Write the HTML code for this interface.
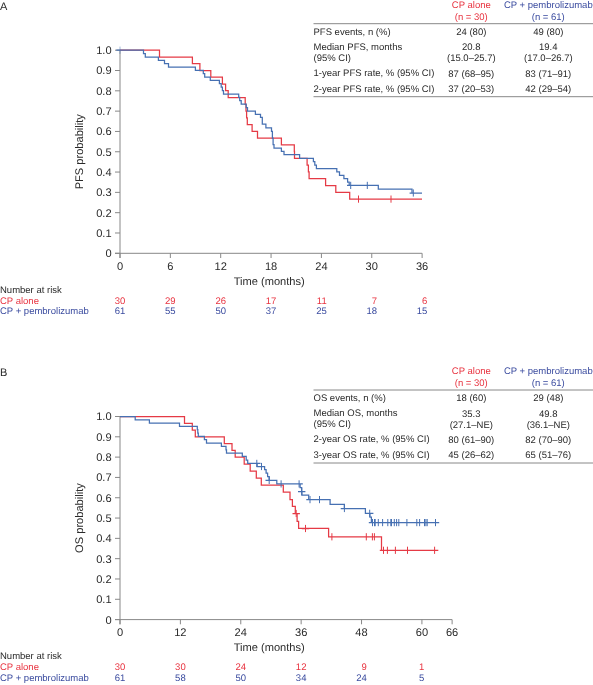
<!DOCTYPE html>
<html><head><meta charset="utf-8"><title>Kaplan-Meier curves</title>
<style>
html,body{margin:0;padding:0;background:#fff;}
body{width:593px;height:685px;overflow:hidden;}
svg{display:block;font-family:'Liberation Sans', Arial, Helvetica, sans-serif;text-rendering:geometricPrecision;}
</style></head>
<body>
<svg width="593" height="685" viewBox="0 0 593 685">
<rect width="593" height="685" fill="#fff"/>
<text x="0" y="9.6" font-size="11" fill="#2a2a2a" text-anchor="start" >A</text>
<text x="471.3" y="8.1" font-size="9.5" fill="#e8323f" text-anchor="middle" >CP alone</text>
<text x="471.3" y="19.7" font-size="9.5" fill="#e8323f" text-anchor="middle" >(n = 30)</text>
<text x="548.3" y="8.1" font-size="9.5" fill="#3a4b9f" text-anchor="middle" >CP + pembrolizumab</text>
<text x="548.3" y="19.7" font-size="9.5" fill="#3a4b9f" text-anchor="middle" >(n = 61)</text>
<line x1="313.5" x2="593" y1="23.7" y2="23.7" stroke="#888" stroke-width="1"/>
<line x1="313.5" x2="593" y1="96.7" y2="96.7" stroke="#888" stroke-width="1"/>
<text x="313.5" y="34.7" font-size="9.5" fill="#2a2a2a" text-anchor="start" >PFS events, n (%)</text>
<text x="471.3" y="34.7" font-size="9.5" fill="#2a2a2a" text-anchor="middle" >24 (80)</text>
<text x="548.3" y="34.7" font-size="9.5" fill="#2a2a2a" text-anchor="middle" >49 (80)</text>
<text x="313.5" y="49.8" font-size="9.5" fill="#2a2a2a" text-anchor="start" >Median PFS, months</text>
<text x="471.3" y="49.8" font-size="9.5" fill="#2a2a2a" text-anchor="middle" >20.8</text>
<text x="548.3" y="49.8" font-size="9.5" fill="#2a2a2a" text-anchor="middle" >19.4</text>
<text x="313.5" y="60.9" font-size="9.5" fill="#2a2a2a" text-anchor="start" >(95% CI)</text>
<text x="471.3" y="60.9" font-size="9.5" fill="#2a2a2a" text-anchor="middle" >(15.0–25.7)</text>
<text x="548.3" y="60.9" font-size="9.5" fill="#2a2a2a" text-anchor="middle" >(17.0–26.7)</text>
<text x="313.5" y="76.1" font-size="9.5" fill="#2a2a2a" text-anchor="start" >1-year PFS rate, % (95% CI)</text>
<text x="471.3" y="76.8" font-size="9.5" fill="#2a2a2a" text-anchor="middle" >87 (68–95)</text>
<text x="548.3" y="76.8" font-size="9.5" fill="#2a2a2a" text-anchor="middle" >83 (71–91)</text>
<text x="313.5" y="91.7" font-size="9.5" fill="#2a2a2a" text-anchor="start" >2-year PFS rate, % (95% CI)</text>
<text x="471.3" y="91.8" font-size="9.5" fill="#2a2a2a" text-anchor="middle" >37 (20–53)</text>
<text x="548.3" y="91.8" font-size="9.5" fill="#2a2a2a" text-anchor="middle" >42 (29–54)</text>
<line x1="120" x2="120" y1="50.20" y2="258.00" stroke="#888888" stroke-width="1"/>
<line x1="115" x2="422.11" y1="253.30" y2="253.30" stroke="#888888" stroke-width="1"/>
<line x1="115" x2="120" y1="253.30" y2="253.30" stroke="#888888" stroke-width="1"/>
<text x="111.6" y="257.2" font-size="11.1" fill="#2a2a2a" text-anchor="end" >0</text>
<line x1="115" x2="120" y1="232.99" y2="232.99" stroke="#888888" stroke-width="1"/>
<text x="111.6" y="236.89" font-size="11.1" fill="#2a2a2a" text-anchor="end" >0.1</text>
<line x1="115" x2="120" y1="212.68" y2="212.68" stroke="#888888" stroke-width="1"/>
<text x="111.6" y="216.58" font-size="11.1" fill="#2a2a2a" text-anchor="end" >0.2</text>
<line x1="115" x2="120" y1="192.37" y2="192.37" stroke="#888888" stroke-width="1"/>
<text x="111.6" y="196.27" font-size="11.1" fill="#2a2a2a" text-anchor="end" >0.3</text>
<line x1="115" x2="120" y1="172.06" y2="172.06" stroke="#888888" stroke-width="1"/>
<text x="111.6" y="175.96" font-size="11.1" fill="#2a2a2a" text-anchor="end" >0.4</text>
<line x1="115" x2="120" y1="151.75" y2="151.75" stroke="#888888" stroke-width="1"/>
<text x="111.6" y="155.65" font-size="11.1" fill="#2a2a2a" text-anchor="end" >0.5</text>
<line x1="115" x2="120" y1="131.44" y2="131.44" stroke="#888888" stroke-width="1"/>
<text x="111.6" y="135.34" font-size="11.1" fill="#2a2a2a" text-anchor="end" >0.6</text>
<line x1="115" x2="120" y1="111.13" y2="111.13" stroke="#888888" stroke-width="1"/>
<text x="111.6" y="115.03" font-size="11.1" fill="#2a2a2a" text-anchor="end" >0.7</text>
<line x1="115" x2="120" y1="90.82" y2="90.82" stroke="#888888" stroke-width="1"/>
<text x="111.6" y="94.72" font-size="11.1" fill="#2a2a2a" text-anchor="end" >0.8</text>
<line x1="115" x2="120" y1="70.51" y2="70.51" stroke="#888888" stroke-width="1"/>
<text x="111.6" y="74.41" font-size="11.1" fill="#2a2a2a" text-anchor="end" >0.9</text>
<line x1="115" x2="120" y1="50.20" y2="50.20" stroke="#888888" stroke-width="1"/>
<text x="111.6" y="54.1" font-size="11.1" fill="#2a2a2a" text-anchor="end" >1.0</text>
<line x1="120.00" x2="120.00" y1="253.30" y2="258.00" stroke="#888888" stroke-width="1"/>
<text x="120.0" y="270.0" font-size="11.1" fill="#2a2a2a" text-anchor="middle" >0</text>
<line x1="170.35" x2="170.35" y1="253.30" y2="258.00" stroke="#888888" stroke-width="1"/>
<text x="170.35" y="270.0" font-size="11.1" fill="#2a2a2a" text-anchor="middle" >6</text>
<line x1="220.70" x2="220.70" y1="253.30" y2="258.00" stroke="#888888" stroke-width="1"/>
<text x="220.7" y="270.0" font-size="11.1" fill="#2a2a2a" text-anchor="middle" >12</text>
<line x1="271.06" x2="271.06" y1="253.30" y2="258.00" stroke="#888888" stroke-width="1"/>
<text x="271.06" y="270.0" font-size="11.1" fill="#2a2a2a" text-anchor="middle" >18</text>
<line x1="321.41" x2="321.41" y1="253.30" y2="258.00" stroke="#888888" stroke-width="1"/>
<text x="321.41" y="270.0" font-size="11.1" fill="#2a2a2a" text-anchor="middle" >24</text>
<line x1="371.76" x2="371.76" y1="253.30" y2="258.00" stroke="#888888" stroke-width="1"/>
<text x="371.76" y="270.0" font-size="11.1" fill="#2a2a2a" text-anchor="middle" >30</text>
<line x1="422.11" x2="422.11" y1="253.30" y2="258.00" stroke="#888888" stroke-width="1"/>
<text x="422.11" y="270.0" font-size="11.1" fill="#2a2a2a" text-anchor="middle" >36</text>
<text x="269.2" y="284.8" font-size="11.1" fill="#2a2a2a" text-anchor="middle" >Time (months)</text>
<text x="0" y="0" font-size="11.1" fill="#2a2a2a" text-anchor="middle" transform="translate(82.8 151.75) rotate(-90)">PFS probability</text>
<text x="0" y="292.6" font-size="9.5" fill="#2a2a2a" text-anchor="start" >Number at risk</text>
<text x="0" y="303.5" font-size="9.5" fill="#e8323f" text-anchor="start" >CP alone</text>
<text x="0" y="313.9" font-size="9.5" fill="#3a4b9f" text-anchor="start" >CP + pembrolizumab</text>
<text x="125.3" y="303.6" font-size="9.5" fill="#e8323f" text-anchor="end" >30</text>
<text x="125.3" y="313.8" font-size="9.5" fill="#3a4b9f" text-anchor="end" >61</text>
<text x="175.65" y="303.6" font-size="9.5" fill="#e8323f" text-anchor="end" >29</text>
<text x="175.65" y="313.8" font-size="9.5" fill="#3a4b9f" text-anchor="end" >55</text>
<text x="226.0" y="303.6" font-size="9.5" fill="#e8323f" text-anchor="end" >26</text>
<text x="226.0" y="313.8" font-size="9.5" fill="#3a4b9f" text-anchor="end" >50</text>
<text x="276.36" y="303.6" font-size="9.5" fill="#e8323f" text-anchor="end" >17</text>
<text x="276.36" y="313.8" font-size="9.5" fill="#3a4b9f" text-anchor="end" >37</text>
<text x="326.71" y="303.6" font-size="9.5" fill="#e8323f" text-anchor="end" >11</text>
<text x="326.71" y="313.8" font-size="9.5" fill="#3a4b9f" text-anchor="end" >25</text>
<text x="377.06" y="303.6" font-size="9.5" fill="#e8323f" text-anchor="end" >7</text>
<text x="377.06" y="313.8" font-size="9.5" fill="#3a4b9f" text-anchor="end" >18</text>
<text x="427.41" y="303.6" font-size="9.5" fill="#e8323f" text-anchor="end" >6</text>
<text x="427.41" y="313.8" font-size="9.5" fill="#3a4b9f" text-anchor="end" >15</text>
<path d="M120 50.20 H159.5 V57.00 H192.4 V63.70 H199.9 V70.50 H210.8 V77.20 H222.4 V84.00 H225.6 V90.70 H228.2 V97.50 H245.2 V104.30 H246.0 V111.10 H246.6 V117.80 H247.3 V124.60 H252.1 V131.30 H257.5 V138.20 H281.4 V144.80 H294.3 V151.40 H294.5 V158.40 H307.1 V165.20 H308.4 V171.90 H309.1 V178.70 H325.6 V185.50 H335.8 V192.40 H349.7 V199.10 H422.0 M354.80 199.10 H362.20 M387.30 199.10 H394.70" fill="none" stroke="#e53a45" stroke-width="1.25" stroke-linejoin="miter" stroke-linecap="butt"/>
<path d="M358.50 195.50 V202.70" stroke="#e53a45" stroke-width="1" fill="none"/><path d="M391.00 195.50 V202.70" stroke="#e53a45" stroke-width="1" fill="none"/>
<path d="M120 50.20 H143.5 V53.50 H145.3 V57.00 H158.4 V60.30 H164.5 V63.60 H168.5 V67.00 H195.4 V70.40 H203.3 V73.70 H204.7 V77.10 H210.3 V80.40 H219.4 V83.70 H221.2 V87.00 H222.4 V90.50 H223.5 V94.00 H238.7 V97.40 H239.7 V100.70 H241.2 V104.10 H246.2 V107.60 H247.5 V111.00 H255.4 V114.30 H260.5 V117.40 H262.3 V124.20 H265.9 V127.80 H271.5 V131.30 H272.4 V138.00 H273.1 V144.60 H274.0 V148.10 H281.4 V151.40 H284.0 V154.70 H299.6 V158.30 H313.4 V161.70 H314.8 V165.10 H316.4 V168.50 H336.8 V171.80 H339.5 V175.30 H343.9 V178.60 H347.6 V182.20 H349.2 V185.40 H378.3 V189.10 H412.0 V193.00 H422.0 M116.30 50.20 H123.70 M347.00 185.40 H354.40 M363.60 185.40 H371.00 M409.60 193.00 H417.00" fill="none" stroke="#4670b2" stroke-width="1.25" stroke-linejoin="miter" stroke-linecap="butt"/>
<path d="M120.00 46.60 V53.80" stroke="#4670b2" stroke-width="1" fill="none" opacity="0.5"/><path d="M350.70 181.80 V189.00" stroke="#4670b2" stroke-width="1" fill="none"/><path d="M367.30 181.80 V189.00" stroke="#4670b2" stroke-width="1" fill="none"/><path d="M413.30 189.40 V196.60" stroke="#4670b2" stroke-width="1" fill="none"/>
<text x="0" y="375.9" font-size="11" fill="#2a2a2a" text-anchor="start" >B</text>
<text x="471.3" y="374.4" font-size="9.5" fill="#e8323f" text-anchor="middle" >CP alone</text>
<text x="471.3" y="386.0" font-size="9.5" fill="#e8323f" text-anchor="middle" >(n = 30)</text>
<text x="548.3" y="374.4" font-size="9.5" fill="#3a4b9f" text-anchor="middle" >CP + pembrolizumab</text>
<text x="548.3" y="386.0" font-size="9.5" fill="#3a4b9f" text-anchor="middle" >(n = 61)</text>
<line x1="313.5" x2="593" y1="390.0" y2="390.0" stroke="#888" stroke-width="1"/>
<line x1="313.5" x2="593" y1="463.0" y2="463.0" stroke="#888" stroke-width="1"/>
<text x="313.5" y="401.0" font-size="9.5" fill="#2a2a2a" text-anchor="start" >OS events, n (%)</text>
<text x="471.3" y="401.0" font-size="9.5" fill="#2a2a2a" text-anchor="middle" >18 (60)</text>
<text x="548.3" y="401.0" font-size="9.5" fill="#2a2a2a" text-anchor="middle" >29 (48)</text>
<text x="313.5" y="416.1" font-size="9.5" fill="#2a2a2a" text-anchor="start" >Median OS, months</text>
<text x="471.3" y="417.2" font-size="9.5" fill="#2a2a2a" text-anchor="middle" >35.3</text>
<text x="548.3" y="417.2" font-size="9.5" fill="#2a2a2a" text-anchor="middle" >49.8</text>
<text x="313.5" y="427.2" font-size="9.5" fill="#2a2a2a" text-anchor="start" >(95% CI)</text>
<text x="471.3" y="428.2" font-size="9.5" fill="#2a2a2a" text-anchor="middle" >(27.1–NE)</text>
<text x="548.3" y="428.2" font-size="9.5" fill="#2a2a2a" text-anchor="middle" >(36.1–NE)</text>
<text x="313.5" y="442.4" font-size="9.5" fill="#2a2a2a" text-anchor="start" >2-year OS rate, % (95% CI)</text>
<text x="471.3" y="443.1" font-size="9.5" fill="#2a2a2a" text-anchor="middle" >80 (61–90)</text>
<text x="548.3" y="443.1" font-size="9.5" fill="#2a2a2a" text-anchor="middle" >82 (70–90)</text>
<text x="313.5" y="458.0" font-size="9.5" fill="#2a2a2a" text-anchor="start" >3-year OS rate, % (95% CI)</text>
<text x="471.3" y="458.1" font-size="9.5" fill="#2a2a2a" text-anchor="middle" >45 (26–62)</text>
<text x="548.3" y="458.1" font-size="9.5" fill="#2a2a2a" text-anchor="middle" >65 (51–76)</text>
<line x1="120" x2="120" y1="416.50" y2="624.30" stroke="#888888" stroke-width="1"/>
<line x1="115" x2="452.11" y1="619.60" y2="619.60" stroke="#888888" stroke-width="1"/>
<line x1="115" x2="120" y1="619.60" y2="619.60" stroke="#888888" stroke-width="1"/>
<text x="111.6" y="623.5" font-size="11.1" fill="#2a2a2a" text-anchor="end" >0</text>
<line x1="115" x2="120" y1="599.29" y2="599.29" stroke="#888888" stroke-width="1"/>
<text x="111.6" y="603.19" font-size="11.1" fill="#2a2a2a" text-anchor="end" >0.1</text>
<line x1="115" x2="120" y1="578.98" y2="578.98" stroke="#888888" stroke-width="1"/>
<text x="111.6" y="582.88" font-size="11.1" fill="#2a2a2a" text-anchor="end" >0.2</text>
<line x1="115" x2="120" y1="558.67" y2="558.67" stroke="#888888" stroke-width="1"/>
<text x="111.6" y="562.57" font-size="11.1" fill="#2a2a2a" text-anchor="end" >0.3</text>
<line x1="115" x2="120" y1="538.36" y2="538.36" stroke="#888888" stroke-width="1"/>
<text x="111.6" y="542.26" font-size="11.1" fill="#2a2a2a" text-anchor="end" >0.4</text>
<line x1="115" x2="120" y1="518.05" y2="518.05" stroke="#888888" stroke-width="1"/>
<text x="111.6" y="521.95" font-size="11.1" fill="#2a2a2a" text-anchor="end" >0.5</text>
<line x1="115" x2="120" y1="497.74" y2="497.74" stroke="#888888" stroke-width="1"/>
<text x="111.6" y="501.64" font-size="11.1" fill="#2a2a2a" text-anchor="end" >0.6</text>
<line x1="115" x2="120" y1="477.43" y2="477.43" stroke="#888888" stroke-width="1"/>
<text x="111.6" y="481.33" font-size="11.1" fill="#2a2a2a" text-anchor="end" >0.7</text>
<line x1="115" x2="120" y1="457.12" y2="457.12" stroke="#888888" stroke-width="1"/>
<text x="111.6" y="461.02" font-size="11.1" fill="#2a2a2a" text-anchor="end" >0.8</text>
<line x1="115" x2="120" y1="436.81" y2="436.81" stroke="#888888" stroke-width="1"/>
<text x="111.6" y="440.71" font-size="11.1" fill="#2a2a2a" text-anchor="end" >0.9</text>
<line x1="115" x2="120" y1="416.50" y2="416.50" stroke="#888888" stroke-width="1"/>
<text x="111.6" y="420.4" font-size="11.1" fill="#2a2a2a" text-anchor="end" >1.0</text>
<line x1="120.00" x2="120.00" y1="619.60" y2="624.30" stroke="#888888" stroke-width="1"/>
<text x="120.0" y="636.3" font-size="11.1" fill="#2a2a2a" text-anchor="middle" >0</text>
<line x1="180.38" x2="180.38" y1="619.60" y2="624.30" stroke="#888888" stroke-width="1"/>
<text x="180.38" y="636.3" font-size="11.1" fill="#2a2a2a" text-anchor="middle" >12</text>
<line x1="240.77" x2="240.77" y1="619.60" y2="624.30" stroke="#888888" stroke-width="1"/>
<text x="240.77" y="636.3" font-size="11.1" fill="#2a2a2a" text-anchor="middle" >24</text>
<line x1="301.15" x2="301.15" y1="619.60" y2="624.30" stroke="#888888" stroke-width="1"/>
<text x="301.15" y="636.3" font-size="11.1" fill="#2a2a2a" text-anchor="middle" >36</text>
<line x1="361.54" x2="361.54" y1="619.60" y2="624.30" stroke="#888888" stroke-width="1"/>
<text x="361.54" y="636.3" font-size="11.1" fill="#2a2a2a" text-anchor="middle" >48</text>
<line x1="421.92" x2="421.92" y1="619.60" y2="624.30" stroke="#888888" stroke-width="1"/>
<text x="421.92" y="636.3" font-size="11.1" fill="#2a2a2a" text-anchor="middle" >60</text>
<line x1="452.11" x2="452.11" y1="619.60" y2="624.30" stroke="#888888" stroke-width="1"/>
<text x="452.11" y="636.3" font-size="11.1" fill="#2a2a2a" text-anchor="middle" >66</text>
<text x="269.2" y="651.1" font-size="11.1" fill="#2a2a2a" text-anchor="middle" >Time (months)</text>
<text x="0" y="0" font-size="11.1" fill="#2a2a2a" text-anchor="middle" transform="translate(82.8 518.05) rotate(-90)">OS probability</text>
<text x="0" y="658.9" font-size="9.5" fill="#2a2a2a" text-anchor="start" >Number at risk</text>
<text x="0" y="669.8" font-size="9.5" fill="#e8323f" text-anchor="start" >CP alone</text>
<text x="0" y="680.8" font-size="9.5" fill="#3a4b9f" text-anchor="start" >CP + pembrolizumab</text>
<text x="125.3" y="669.9" font-size="9.5" fill="#e8323f" text-anchor="end" >30</text>
<text x="125.3" y="680.7" font-size="9.5" fill="#3a4b9f" text-anchor="end" >61</text>
<text x="185.68" y="669.9" font-size="9.5" fill="#e8323f" text-anchor="end" >30</text>
<text x="185.68" y="680.7" font-size="9.5" fill="#3a4b9f" text-anchor="end" >58</text>
<text x="246.07" y="669.9" font-size="9.5" fill="#e8323f" text-anchor="end" >24</text>
<text x="246.07" y="680.7" font-size="9.5" fill="#3a4b9f" text-anchor="end" >50</text>
<text x="306.45" y="669.9" font-size="9.5" fill="#e8323f" text-anchor="end" >12</text>
<text x="306.45" y="680.7" font-size="9.5" fill="#3a4b9f" text-anchor="end" >34</text>
<text x="366.84" y="669.9" font-size="9.5" fill="#e8323f" text-anchor="end" >9</text>
<text x="366.84" y="680.7" font-size="9.5" fill="#3a4b9f" text-anchor="end" >24</text>
<text x="424.4" y="669.9" font-size="9.5" fill="#e8323f" text-anchor="end" >1</text>
<text x="424.4" y="680.7" font-size="9.5" fill="#3a4b9f" text-anchor="end" >5</text>
<path d="M120 416.50 H184.5 V423.30 H192.3 V430.10 H195.3 V436.80 H224.3 V443.50 H232.0 V450.30 H235.2 V457.00 H244.2 V464.10 H250.2 V471.20 H256.3 V478.20 H261.3 V485.20 H283.3 V492.10 H290.0 V499.50 H292.4 V506.40 H295.3 V513.60 H297.1 V521.40 H298.6 V528.40 H328.6 V536.80 H381.5 V550.30 H434.6 M292.50 513.50 H299.90 M301.80 528.50 H309.20 M328.20 536.80 H335.60 M362.60 536.80 H370.00 M368.70 536.80 H376.10 M370.70 536.80 H378.10 M379.80 550.30 H387.20 M383.70 550.30 H391.10 M391.70 550.30 H399.10 M403.80 550.30 H411.20 M430.90 550.30 H438.30" fill="none" stroke="#e53a45" stroke-width="1.25" stroke-linejoin="miter" stroke-linecap="butt"/>
<path d="M296.20 509.90 V517.10" stroke="#e53a45" stroke-width="1" fill="none"/><path d="M305.50 524.90 V532.10" stroke="#e53a45" stroke-width="1" fill="none"/><path d="M331.90 533.20 V540.40" stroke="#e53a45" stroke-width="1" fill="none"/><path d="M366.30 533.20 V540.40" stroke="#e53a45" stroke-width="1" fill="none"/><path d="M372.40 533.20 V540.40" stroke="#e53a45" stroke-width="1" fill="none"/><path d="M374.40 533.20 V540.40" stroke="#e53a45" stroke-width="1" fill="none"/><path d="M383.50 546.70 V553.90" stroke="#e53a45" stroke-width="1" fill="none"/><path d="M387.40 546.70 V553.90" stroke="#e53a45" stroke-width="1" fill="none"/><path d="M395.40 546.70 V553.90" stroke="#e53a45" stroke-width="1" fill="none"/><path d="M407.50 546.70 V553.90" stroke="#e53a45" stroke-width="1" fill="none"/><path d="M434.60 546.70 V553.90" stroke="#e53a45" stroke-width="1" fill="none"/>
<path d="M120 416.50 H135.2 V419.80 H149.4 V423.20 H179.5 V426.40 H197.3 V429.70 H197.8 V433.00 H198.3 V436.30 H204.4 V439.60 H206.5 V443.00 H221.4 V446.40 H226.0 V449.80 H226.5 V453.10 H242.3 V456.40 H246.2 V460.00 H247.7 V463.40 H257.1 V466.50 H264.6 V469.70 H266.1 V473.10 H267.6 V476.70 H269.2 V480.40 H276.8 V483.90 H300.1 V487.50 H301.7 V491.60 H301.9 V495.20 H308.7 V499.60 H330.1 V504.30 H344.4 V508.50 H365.4 V513.30 H369.9 V517.20 H371.4 V522.60 H435.5 M253.10 463.40 H260.50 M257.80 466.50 H265.20 M265.50 480.40 H272.90 M277.40 483.90 H284.80 M295.40 483.90 H302.80 M298.00 491.60 H305.40 M306.30 499.60 H313.70 M315.80 499.60 H323.20 M340.70 508.50 H348.10 M366.00 513.30 H373.40 M368.80 522.60 H376.20 M370.80 522.60 H378.20 M371.50 522.60 H378.90 M374.60 522.60 H382.00 M378.90 522.60 H386.30 M384.10 522.60 H391.50 M387.10 522.60 H394.50 M387.80 522.60 H395.20 M390.60 522.60 H398.00 M392.90 522.60 H400.30 M395.10 522.60 H402.50 M403.20 522.60 H410.60 M413.10 522.60 H420.50 M415.90 522.60 H423.30 M420.80 522.60 H428.20 M422.20 522.60 H429.60 M423.50 522.60 H430.90 M431.80 522.60 H439.20" fill="none" stroke="#4670b2" stroke-width="1.25" stroke-linejoin="miter" stroke-linecap="butt"/>
<path d="M256.80 459.80 V467.00" stroke="#4670b2" stroke-width="1" fill="none"/><path d="M261.50 462.90 V470.10" stroke="#4670b2" stroke-width="1" fill="none"/><path d="M269.20 476.80 V484.00" stroke="#4670b2" stroke-width="1" fill="none"/><path d="M281.10 480.30 V487.50" stroke="#4670b2" stroke-width="1" fill="none"/><path d="M299.10 480.30 V487.50" stroke="#4670b2" stroke-width="1" fill="none"/><path d="M301.70 488.00 V495.20" stroke="#4670b2" stroke-width="1" fill="none"/><path d="M310.00 496.00 V503.20" stroke="#4670b2" stroke-width="1" fill="none"/><path d="M319.50 496.00 V503.20" stroke="#4670b2" stroke-width="1" fill="none"/><path d="M344.40 504.90 V512.10" stroke="#4670b2" stroke-width="1" fill="none"/><path d="M369.70 509.70 V516.90" stroke="#4670b2" stroke-width="1" fill="none"/><path d="M372.50 519.00 V526.20" stroke="#4670b2" stroke-width="1" fill="none"/><path d="M374.50 519.00 V526.20" stroke="#4670b2" stroke-width="1" fill="none"/><path d="M375.20 519.00 V526.20" stroke="#4670b2" stroke-width="1" fill="none"/><path d="M378.30 519.00 V526.20" stroke="#4670b2" stroke-width="1" fill="none"/><path d="M382.60 519.00 V526.20" stroke="#4670b2" stroke-width="1" fill="none"/><path d="M387.80 519.00 V526.20" stroke="#4670b2" stroke-width="1" fill="none"/><path d="M390.80 519.00 V526.20" stroke="#4670b2" stroke-width="1" fill="none"/><path d="M391.50 519.00 V526.20" stroke="#4670b2" stroke-width="1" fill="none"/><path d="M394.30 519.00 V526.20" stroke="#4670b2" stroke-width="1" fill="none"/><path d="M396.60 519.00 V526.20" stroke="#4670b2" stroke-width="1" fill="none"/><path d="M398.80 519.00 V526.20" stroke="#4670b2" stroke-width="1" fill="none"/><path d="M406.90 519.00 V526.20" stroke="#4670b2" stroke-width="1" fill="none"/><path d="M416.80 519.00 V526.20" stroke="#4670b2" stroke-width="1" fill="none"/><path d="M419.60 519.00 V526.20" stroke="#4670b2" stroke-width="1" fill="none"/><path d="M424.50 519.00 V526.20" stroke="#4670b2" stroke-width="1" fill="none"/><path d="M425.90 519.00 V526.20" stroke="#4670b2" stroke-width="1" fill="none"/><path d="M427.20 519.00 V526.20" stroke="#4670b2" stroke-width="1" fill="none"/><path d="M435.50 519.00 V526.20" stroke="#4670b2" stroke-width="1" fill="none"/>
</svg>
</body></html>
